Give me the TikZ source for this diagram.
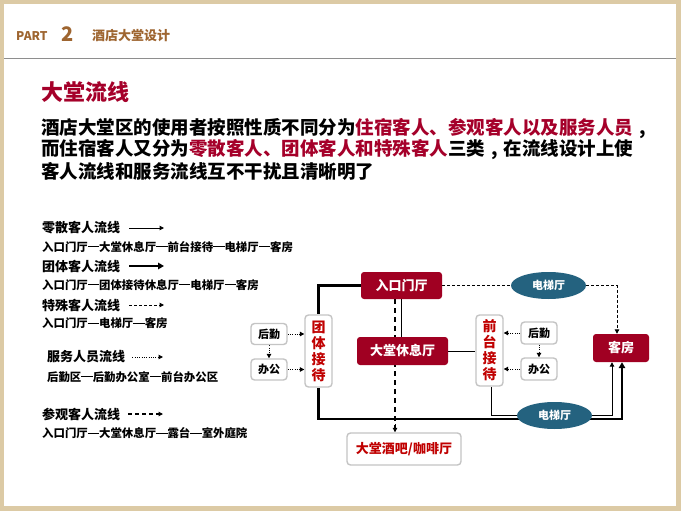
\documentclass[tikz,border=0pt]{standalone}
\usepackage{fontspec}
\setmainfont{Noto Sans CJK SC}
\usetikzlibrary{arrows.meta,shapes.geometric}
\definecolor{beige}{HTML}{DCCAA5}
\definecolor{hbrown}{HTML}{9E6530}
\definecolor{tred}{HTML}{A5002A}
\definecolor{boxred}{HTML}{A00022}
\definecolor{redtxt}{HTML}{C00000}
\definecolor{tealc}{HTML}{24627F}
\definecolor{gborder}{HTML}{C4C4C4}
\definecolor{hline}{HTML}{8E8E8E}
\pgfdeclarelayer{panel}
\pgfdeclarelayer{edges}
\pgfsetlayers{panel,edges,main}
\newcommand{\fs}[1]{\fontsize{#1}{#1}\selectfont}
\newcommand{\dsh}{\makebox[1em][c]{\rule[0.36em]{1em}{0.1em}}}
\newcommand{\cma}{\makebox[1em][c]{,}}
\tikzset{
  txt/.style={anchor=west,inner sep=0pt,font=\bfseries\fs{#1}},
  redbox/.style={fill=boxred,rounded corners=3pt,text=white,font=\bfseries\fs{13},inner sep=0pt},
  whitebox/.style={draw=gborder,line width=1.4pt,fill=white,rounded corners=3.5pt,inner sep=0pt},
  vbox/.style={whitebox,minimum width=27pt,text=redtxt,font=\bfseries\fontsize{14}{16}\selectfont,align=center},
  ellip/.style={ellipse,fill=tealc,text=white,font=\bfseries\fs{11},inner sep=0pt,minimum width=75pt,minimum height=27pt},
  tip/.style={-{Triangle[length=4.5pt,width=4.5pt]}},
  thinline/.style={line width=1pt},
  thickline/.style={line width=2.6pt},
  speciall/.style={line width=1pt,dash pattern=on 3pt off 2pt},
  visitl/.style={line width=1.8pt,dash pattern=on 5pt off 4pt},
  servicel/.style={line width=1pt,dash pattern=on 1pt off 1.3pt},
}
\begin{document}
\begin{tikzpicture}[x=1pt,y=-1pt]
\useasboundingbox (0,0) rectangle (681,511);
\begin{pgfonlayer}{panel}
\fill[beige] (0,0) rectangle (681,511);
\fill[white] (4,4) rectangle (676,506);
\draw[hline,line width=1.3pt] (4,58.5) -- (676,58.5);
\end{pgfonlayer}

% header
\node[txt=12,text=hbrown] (part) at (16,36) {PART};
\node[txt=20,text=hbrown] (num) at (61,34.5) {2};
\node[txt=13,text=hbrown] (sect) at (92,36) {酒店大堂设计};

% title and body
\node[txt=22,text=tred] (title) at (41,92) {大堂流线};
\node[txt=18.5] (b1) at (41,129) {酒店大堂区的使用者按照性质不同分为\textcolor{tred}{住宿客人、参观客人以及服务人员}\cma};
\node[txt=18.5] (b2) at (41,150) {而住宿客人又分为\textcolor{tred}{零散客人、团体客人和特殊客人}三类\cma 在流线设计上使};
\node[txt=18.5] (b3) at (41,171) {客人流线和服务流线互不干扰且清晰明了};

% legend
\node[txt=13] (l1) at (42,228) {零散客人流线};
\node[txt=11.4] (s1) at (42,247) {入口门厅\dsh 大堂休息厅\dsh 前台接待\dsh 电梯厅\dsh 客房};
\node[txt=13] (l2) at (42,266) {团体客人流线};
\node[txt=11.4] (s2) at (42,285) {入口门厅\dsh 团体接待休息厅\dsh 电梯厅\dsh 客房};
\node[txt=13] (l3) at (42,305) {特殊客人流线};
\node[txt=11.4] (s3) at (42,323.5) {入口门厅\dsh 电梯厅\dsh 客房};
\node[txt=13] (l4) at (47,357) {服务人员流线};
\node[txt=11.4] (s4) at (47,377) {后勤区\dsh 后勤办公室\dsh 前台办公区};
\node[txt=13] (l5) at (42,414) {参观客人流线};
\node[txt=11.4] (s5) at (42,433.5) {入口门厅\dsh 大堂休息厅\dsh 露台\dsh 室外庭院};

\coordinate (e1) at (164,228);
\coordinate (e2) at (164,266);
\coordinate (e3) at (164,305);
\coordinate (e4) at (163,357);
\coordinate (e5) at (163,414);
\draw[thinline,tip,shorten <=9pt] (l1.east) -- (e1);
\draw[thickline,-{Triangle[length=6pt,width=6.5pt]},shorten <=9pt] (l2.east) -- (e2);
\draw[speciall,tip,shorten <=9pt] (l3.east) -- (e3);
\draw[servicel,tip,shorten <=7pt] (l4.east) -- (e4);
\draw[visitl,line width=1.3pt,dash pattern=on 4pt off 3pt,tip,shorten <=8pt] (l5.east) -- (e5);

% diagram nodes
\node[redbox,minimum width=81pt,minimum height=27pt] (ent) at (401.5,285.5) {入口门厅};
\node[redbox,minimum width=91pt,minimum height=28pt] (lounge) at (402.5,351) {大堂休息厅};
\node[redbox,minimum width=56pt,minimum height=28pt] (room) at (621,348) {客房};
\node[vbox,minimum height=72pt] (group) at (318.5,351) {团\\体\\接\\待};
\node[vbox,minimum height=71pt] (front) at (489.5,350.5) {前\\台\\接\\待};
\node[whitebox,minimum width=36pt,minimum height=21pt,font=\bfseries\fs{11}] (hq1) at (269,334) {后勤};
\node[whitebox,minimum width=36pt,minimum height=21pt,font=\bfseries\fs{11}] (of1) at (269,369.5) {办公};
\node[whitebox,minimum width=36pt,minimum height=22pt,font=\bfseries\fs{11}] (hq2) at (539,333) {后勤};
\node[whitebox,minimum width=36pt,minimum height=22pt,font=\bfseries\fs{11}] (of2) at (539,369) {办公};
\node[whitebox,minimum width=114pt,minimum height=32pt,text=redtxt,font=\bfseries\fs{13}] (bar) at (404,449) {大堂酒吧/咖啡厅};
\node[ellip] (el1) at (548.5,285.5) {电梯厅};
\node[ellip] (el2) at (554.5,415.5) {电梯厅};

\coordinate (tbr) at (622,419);

\begin{pgfonlayer}{edges}
% group guests (thick)
\draw[thickline] (ent.west) -| (group.north);
\draw[thickline,-{Triangle[length=6pt,width=6.5pt]}] (group.south) |- (tbr) -- (tbr |- room.south);
% single guests (thin)
\draw[thinline] (ent.south) -- (ent.south |- lounge.north);
\draw[thinline] (lounge.east) -- (lounge.east -| front.west);
\draw[thinline] ([xshift=1.5pt]front.south) |- (el2.west);
\draw[thinline,tip] (el2.east) -| ([xshift=-9pt]room.south);
% special guests (dashed)
\draw[speciall] (ent.east) -- (el1.west);
\draw[speciall,tip] (el1.east) -| ([xshift=-4pt]room.north);
% visitors
\draw[visitl] ([xshift=-6.5pt]ent.south) -- ([xshift=-6.5pt]ent.south |- bar.north);
\draw[thinline,tip] ([xshift=-6.5pt,yshift=8pt]ent.south |- bar.north) coordinate (vt) -- (vt |- bar.north);
% service (dotted)
\draw[servicel,tip] (hq1.east) -- (hq1.east -| group.west);
\draw[servicel,tip] (of1.east) -- (of1.east -| group.west);
\draw[servicel,tip] (hq1.south) -- (of1.north);
\draw[servicel,tip] (hq2.west) -- (hq2.west -| front.east);
\draw[servicel,tip] (of2.west) -- (of2.west -| front.east);
\draw[servicel,tip] (hq2.south) -- (of2.north);
\end{pgfonlayer}
\end{tikzpicture}
\end{document}
